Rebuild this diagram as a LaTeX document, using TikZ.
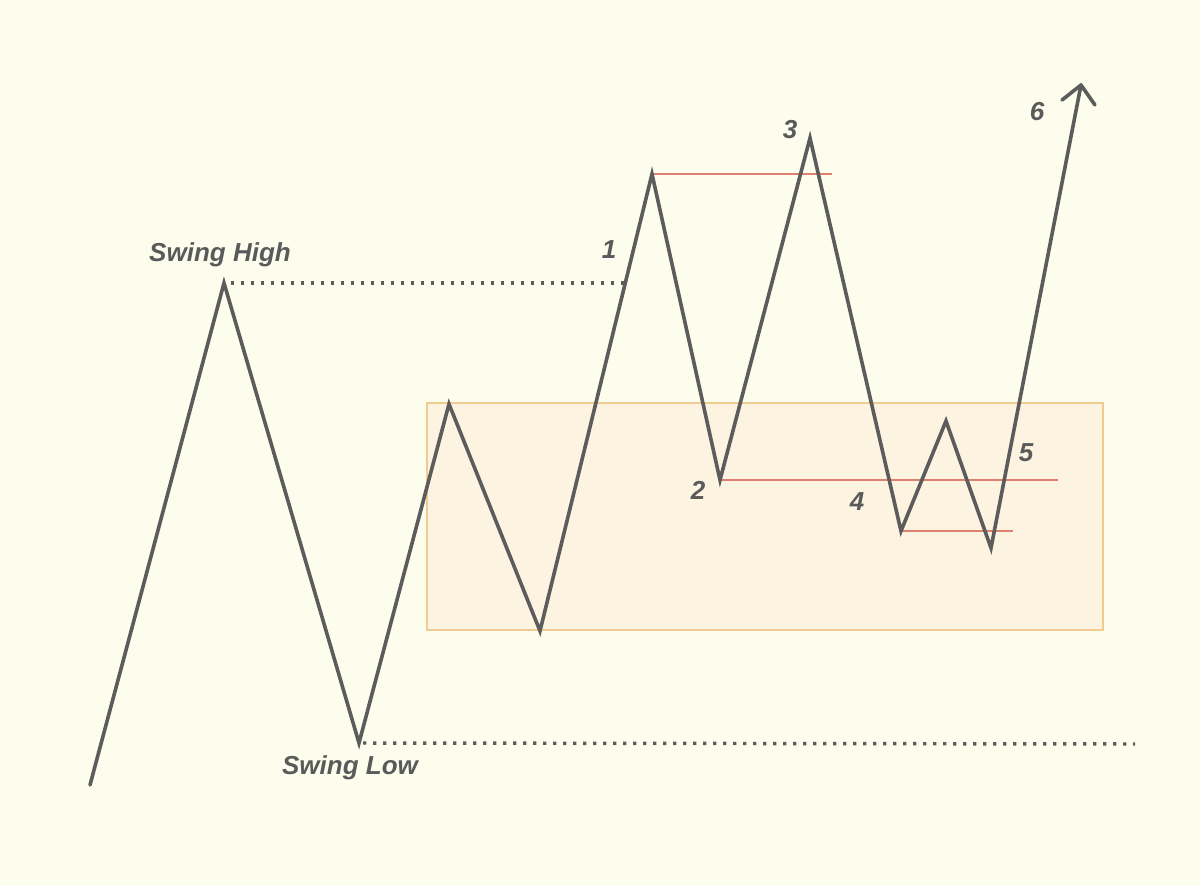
\documentclass[tikz,border=0pt]{standalone}
\usepackage{fontspec}
\setmainfont{Liberation Sans}
\begin{document}
\begin{tikzpicture}[x=0.75pt,y=-0.75pt,
  price/.style={draw=linegray,line width=2.7pt,line join=miter,line cap=round},
  level/.style={draw=levelred,line width=1pt},
  dotline/.style={draw=linegray,line width=2.6pt,dash pattern=on 2.6pt off 4.9pt},
  lbl/.style={text=labelgray,font=\fontsize{19.5}{22}\selectfont\bfseries\itshape,inner sep=0pt}]
\definecolor{bg}{HTML}{FDFDEE}
\definecolor{linegray}{HTML}{5C5C5C}
\definecolor{labelgray}{HTML}{5A5A5A}
\definecolor{levelred}{HTML}{E08070}
\definecolor{boxfill}{HTML}{FDF3E1}
\definecolor{boxedge}{HTML}{F0CC90}
\useasboundingbox (0,0) rectangle (1200,885);
\fill[bg] (0,0) rectangle (1200,885);
% zone box
\filldraw[fill=boxfill,draw=boxedge,line width=1pt] (427,403) rectangle (1103,630);
% pivots
\coordinate (p0) at (90,785);
\coordinate (sh) at (224,283);
\coordinate (sl) at (359,743);
\coordinate (p3) at (449,404);
\coordinate (p4) at (540,631);
\coordinate (p5) at (652,174);
\coordinate (p6) at (720,480);
\coordinate (p7) at (810,138);
\coordinate (p8) at (901,531);
\coordinate (p9) at (946,421);
\coordinate (p10) at (991,548);
\coordinate (tip) at (1081,85);
\coordinate (hl) at (1062,100);
\coordinate (hr) at (1095,105);
% level lines
\coordinate (e1) at (628,283);
\coordinate (e2) at (1135,744);
\coordinate (r1) at (832,174);
\coordinate (r2) at (1058,480);
\coordinate (r3) at (1013,531);
\draw[dotline] ([xshift=5.25pt]sh) -- (e1);
\draw[dotline] ([xshift=3pt]sl) -- (e2);
\draw[level] (p5) -- (r1);
\draw[level] (p6) -- (r2);
\draw[level] (p8) -- (r3);
% price path
\draw[price] (p0) -- (sh) -- (sl) -- (p3) -- (p4) -- (p5) -- (p6) -- (p7) -- (p8) -- (p9) -- (p10) -- (tip);
\draw[price,line join=round] (hl) -- (tip) -- (hr);
% labels
\node[lbl] (tsh) at (220,255) {Swing High};
\node[lbl] (tsl) at (350,768) {Swing Low};
\node[lbl] (t1) at (609,250) {1};
\node[lbl] (t2) at (698,490) {2};
\node[lbl] (t3) at (790,130) {3};
\node[lbl] (t4) at (857,502) {4};
\node[lbl] (t5) at (1026,453) {5};
\node[lbl] (t6) at (1037,112) {6};
\end{tikzpicture}
\end{document}
